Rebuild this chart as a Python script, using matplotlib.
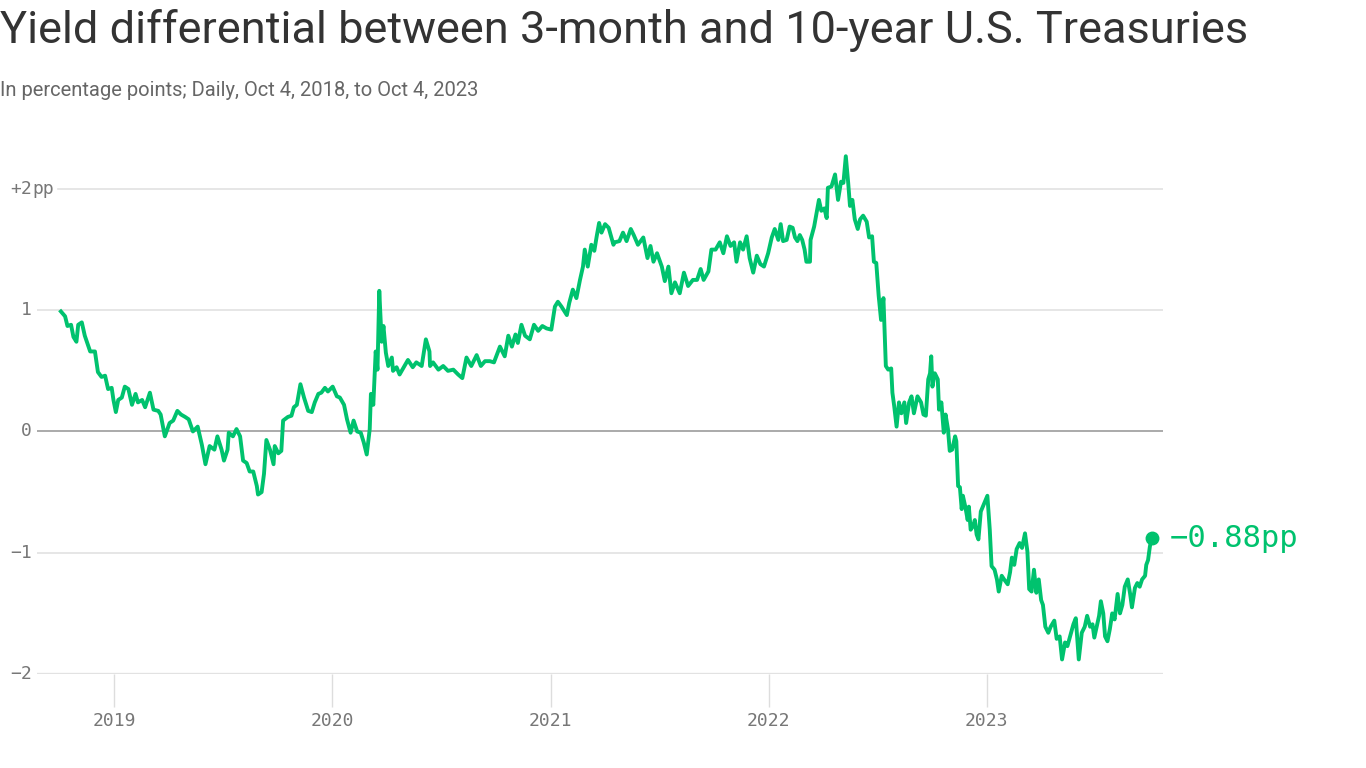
import matplotlib
matplotlib.use("Agg")
import matplotlib.pyplot as plt
import matplotlib.transforms as mtransforms
import numpy as np

# Days since Oct 4, 2018 and the 10y minus 3m spread (percentage points)
day = [0, 7, 11, 17, 21, 26, 29, 35, 40, 49, 57, 62, 68, 74, 79, 85, 88, 92, 96, 102,
       107, 113, 119, 125, 129, 136, 141, 149, 155, 163, 167, 174, 182, 188, 195, 201, 208, 214, 221, 229,
       236, 242, 249, 257, 262, 269, 273, 279, 281, 288, 294, 300, 305, 311, 316, 322, 328, 330, 336, 340,
       344, 350, 356, 358, 364, 369, 372, 380, 386, 390, 395, 401, 407, 414, 420, 425, 431, 436, 442, 447,
       455, 462, 467, 474, 479, 485, 490, 496, 502, 507, 512, 517, 519, 523, 527, 530, 533, 537, 540, 544,
       548, 554, 556, 562, 567, 574, 581, 589, 595, 604, 611, 617, 618, 623, 632, 640, 648, 657, 665, 672,
       679, 687, 696, 703, 710, 718, 725, 735, 743, 749, 755, 761, 765, 771, 777, 785, 792, 799, 806, 813,
       821, 827, 832, 838, 847, 851, 857, 863, 869, 874, 877, 882, 888, 893, 897, 901, 905, 911, 917, 925,
       927, 935, 941, 947, 954, 959, 966, 975, 982, 987, 992, 998, 1006, 1011, 1017, 1022, 1028, 1036, 1043, 1050,
       1058, 1065, 1071, 1076, 1084, 1089, 1096, 1103, 1109, 1115, 1121, 1127, 1131, 1137, 1142, 1148, 1153, 1159, 1165, 1171,
       1177, 1184, 1190, 1195, 1201, 1205, 1209, 1215, 1220, 1225, 1229, 1233, 1237, 1241, 1245, 1248, 1254, 1255, 1261, 1265,
       1269, 1273, 1278, 1282, 1284, 1290, 1296, 1301, 1306, 1310, 1314, 1318, 1321, 1325, 1329, 1334, 1338, 1343, 1349, 1353,
       1358, 1361, 1365, 1369, 1373, 1377, 1381, 1385, 1390, 1392, 1395, 1399, 1403, 1407, 1412, 1415, 1420, 1424, 1428, 1434,
       1440, 1444, 1448, 1452, 1455, 1457, 1459, 1463, 1468, 1470, 1474, 1478, 1481, 1485, 1488, 1492, 1497, 1499, 1502, 1505,
       1508, 1510, 1514, 1518, 1520, 1523, 1527, 1530, 1533, 1536, 1540, 1546, 1551, 1555, 1558, 1563, 1567, 1570, 1575, 1579,
       1585, 1589, 1592, 1596, 1600, 1605, 1609, 1614, 1618, 1621, 1625, 1629, 1633, 1637, 1641, 1644, 1648, 1653, 1657, 1663,
       1667, 1672, 1676, 1681, 1685, 1691, 1695, 1699, 1704, 1709, 1714, 1718, 1723, 1727, 1730, 1734, 1738, 1741, 1745, 1748,
       1752, 1756, 1760, 1764, 1769, 1773, 1777, 1781, 1786, 1790, 1793, 1798, 1802, 1806, 1810, 1815, 1817, 1820, 1823, 1826]

spread = [0.99, 0.95, 0.87, 0.88, 0.78, 0.74, 0.88, 0.90, 0.79, 0.66, 0.66, 0.49, 0.45, 0.46, 0.35, 0.36, 0.26, 0.16, 0.26, 0.28,
          0.37, 0.35, 0.22, 0.31, 0.24, 0.26, 0.20, 0.32, 0.18, 0.17, 0.14, -0.04, 0.07, 0.09, 0.17, 0.14, 0.12, 0.10, 0.00, 0.04,
          -0.11, -0.27, -0.12, -0.15, -0.04, -0.15, -0.24, -0.15, -0.01, -0.04, 0.02, -0.04, -0.24, -0.26, -0.33, -0.33, -0.45, -0.52, -0.50, -0.35,
          -0.07, -0.15, -0.27, -0.12, -0.18, -0.16, 0.09, 0.12, 0.13, 0.20, 0.22, 0.39, 0.28, 0.17, 0.16, 0.24, 0.31, 0.32, 0.36, 0.33,
          0.37, 0.29, 0.28, 0.22, 0.10, -0.01, 0.09, 0.00, -0.01, -0.09, -0.19, 0.02, 0.31, 0.22, 0.66, 0.51, 1.16, 0.74, 0.87, 0.65,
          0.54, 0.61, 0.50, 0.53, 0.47, 0.53, 0.59, 0.53, 0.57, 0.54, 0.76, 0.66, 0.54, 0.57, 0.51, 0.54, 0.50, 0.51, 0.47, 0.44,
          0.61, 0.54, 0.63, 0.54, 0.58, 0.58, 0.57, 0.70, 0.62, 0.79, 0.70, 0.80, 0.73, 0.88, 0.79, 0.76, 0.88, 0.83, 0.87, 0.85,
          0.84, 1.03, 1.07, 1.03, 0.96, 1.06, 1.17, 1.10, 1.25, 1.36, 1.50, 1.36, 1.54, 1.49, 1.61, 1.72, 1.64, 1.71, 1.68, 1.54,
          1.56, 1.57, 1.64, 1.57, 1.67, 1.62, 1.54, 1.60, 1.43, 1.53, 1.40, 1.47, 1.36, 1.24, 1.36, 1.14, 1.23, 1.14, 1.31, 1.20,
          1.25, 1.25, 1.34, 1.25, 1.32, 1.50, 1.50, 1.56, 1.47, 1.61, 1.53, 1.56, 1.40, 1.56, 1.50, 1.61, 1.43, 1.31, 1.45, 1.38,
          1.36, 1.47, 1.60, 1.67, 1.58, 1.71, 1.57, 1.58, 1.69, 1.68, 1.60, 1.57, 1.62, 1.58, 1.50, 1.40, 1.40, 1.58, 1.69, 1.80,
          1.91, 1.82, 1.84, 1.76, 2.01, 2.02, 2.12, 1.91, 2.06, 2.05, 2.27, 2.05, 1.86, 1.91, 1.75, 1.67, 1.75, 1.78, 1.73, 1.60,
          1.61, 1.40, 1.39, 1.12, 0.92, 1.10, 0.54, 0.51, 0.52, 0.32, 0.21, 0.04, 0.24, 0.15, 0.24, 0.07, 0.24, 0.29, 0.15, 0.29,
          0.24, 0.14, 0.13, 0.43, 0.48, 0.62, 0.37, 0.48, 0.43, 0.18, 0.24, -0.01, 0.14, 0.02, -0.16, -0.15, -0.04, -0.08, -0.45, -0.46,
          -0.64, -0.53, -0.62, -0.73, -0.62, -0.81, -0.78, -0.73, -0.85, -0.89, -0.66, -0.59, -0.53, -0.81, -1.11, -1.14, -1.22, -1.32, -1.19, -1.22,
          -1.26, -1.16, -1.04, -1.10, -0.97, -0.92, -0.96, -0.84, -0.99, -1.30, -1.32, -1.14, -1.33, -1.22, -1.39, -1.43, -1.61, -1.66, -1.61, -1.56,
          -1.71, -1.69, -1.88, -1.74, -1.77, -1.66, -1.59, -1.54, -1.88, -1.66, -1.61, -1.52, -1.61, -1.59, -1.70, -1.61, -1.52, -1.40, -1.50, -1.69,
          -1.73, -1.63, -1.50, -1.55, -1.34, -1.50, -1.43, -1.28, -1.22, -1.34, -1.45, -1.29, -1.25, -1.28, -1.22, -1.19, -1.10, -1.06, -0.95, -0.88]

y_ticks = [2, 1, 0, -1, -2]
y_labels = ["+2", "1", "0", "\u22121", "\u22122"]
years = [2019, 2020, 2021, 2022, 2023]

GREEN = "#00c26e"
MONO = "DejaVu Sans Mono"
W, H = 1366, 768

dates = np.datetime64("2018-10-04") + np.array(day).astype("timedelta64[D]")

fig = plt.figure(figsize=(W / 100, H / 100), dpi=100)
ax = fig.add_axes([37 / W, 1 - 674 / H, (1163 - 37) / W, (674 - 152.6) / H])

ax.set_ylim(-2, 2.3)
ax.set_xlim(np.datetime64("2018-08-25"), np.datetime64("2023-10-23"))

# gridlines
for v in y_ticks:
    if v == 0:
        ax.axhline(v, color="#aaaaaa", lw=1.4, zorder=1)
    elif v == 2:
        ax.axhline(v, xmin=21 / 1126, color="#e2e2e2", lw=1.2, zorder=1)
    elif v == -2:
        ax.axhline(v, color="#e2e2e2", lw=2.4, zorder=1)
    else:
        ax.axhline(v, color="#e2e2e2", lw=1.2, zorder=1)

ax.plot(dates, spread, color=GREEN, lw=2.8, solid_joinstyle="round", zorder=3)
ax.plot(dates[-1], spread[-1], "o", color=GREEN, ms=9, zorder=4)
ax.annotate("\u22120.88pp", (dates[-1], spread[-1]), xytext=(13, 0), textcoords="offset points",
            ha="left", va="center", fontsize=22, family=MONO, color=GREEN, annotation_clip=False)

for s in ax.spines.values():
    s.set_visible(False)

ax.set_yticks([])
trans = mtransforms.blended_transform_factory(fig.transFigure, ax.transData)
for v, lab in zip(y_ticks, y_labels):
    ax.text(32 / W, v, lab, transform=trans, ha="right", va="center",
            fontsize=13, family=MONO, color="#777777")
ax.text(32 / W, 2, "pp", transform=trans, ha="left", va="center",
        fontsize=13, family=MONO, color="#777777")

ax.set_xticks([np.datetime64(f"{y}-01-01") for y in years])
ax.set_xticklabels([str(y) for y in years])
ax.tick_params(axis="x", length=24, width=1, color="#dddddd", pad=3, labelsize=13, labelcolor="#777777")
for t in ax.get_xticklabels():
    t.set_family(MONO)

fig.text(0 / W, 1 - 30 / H, "Yield differential between 3-month and 10-year U.S. Treasuries",
         ha="left", va="center", fontsize=32.5, family="Roboto", color="#333333")
fig.text(0 / W, 1 - 90 / H, "In percentage points; Daily, Oct 4, 2018, to Oct 4, 2023",
         ha="left", va="center", fontsize=14.5, family="Roboto", color="#666666")

fig.savefig("out.png", dpi=100)
